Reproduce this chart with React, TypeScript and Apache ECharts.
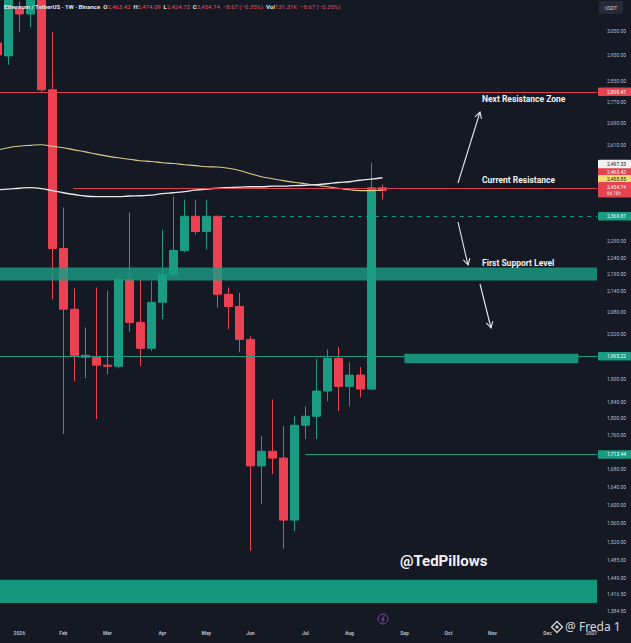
import React, { useEffect, useRef } from "react";
import * as echarts from "echarts";

// ---------- data ----------
const firstWeek = "2025-12-22";
const weekCount = 55;

// weekly candles: [open, close, low, high]
const candles: number[][] = [
  [3000, 2952, 2932, 3033],
  [2948, 3233, 2912, 3268],
  [3146, 3121, 3045, 3175],
  [3121, 3246, 3066, 3290],
  [3246, 2815, 2807, 3290],
  [2815, 2268, 2116, 3045],
  [2268, 2088, 1762, 2398],
  [2088, 1961, 1893, 2148],
  [1961, 1956, 1901, 2037],
  [1956, 1935, 1798, 2151],
  [1935, 1932, 1911, 2142],
  [1932, 2174.5, 1927, 2180],
  [2174.5, 2051, 2025, 2382],
  [2051, 1980, 1932, 2174.5],
  [1980, 2108, 1972, 2169],
  [2108, 2189, 2059.5, 2327],
  [2189, 2262, 2183, 2434],
  [2262, 2369.81, 2256, 2424],
  [2369.81, 2321, 2312, 2424],
  [2321, 2369.81, 2265, 2424],
  [2369.81, 2131, 2093, 2372],
  [2131, 2096, 2032, 2151],
  [2096, 2004, 1969, 2136],
  [2004, 1687, 1503, 2012.5],
  [1687, 1721, 1602, 1757],
  [1721, 1705, 1668.5, 1847],
  [1705, 1567, 1507, 1781],
  [1567, 1783, 1544, 1805],
  [1783, 1805, 1750, 1830],
  [1805, 1868, 1750, 1951],
  [1868, 1953, 1842, 1977],
  [1953, 1880, 1818, 1983],
  [1880, 1909, 1830, 1943],
  [1909, 1873, 1852, 1930],
  [1873, 2463.42, 1870, 2549],
  [2463.42, 2454.74, 2424.73, 2474.09],
];

const maYellow = [
  2593, 2601.5, 2607, 2610, 2612, 2607, 2601.5, 2594, 2587, 2579, 2572, 2566,
  2561, 2556, 2553, 2549, 2546, 2542, 2539, 2535, 2534, 2530, 2522, 2511, 2501,
  2494, 2487.5, 2482, 2477, 2472, 2467, 2462, 2457, 2454, 2454, 2455.85,
];
const maWhite = [
  2457, 2459, 2462, 2464, 2460.5, 2454, 2447, 2441, 2436, 2434, 2434, 2434,
  2436, 2437, 2439, 2444, 2447, 2450.6, 2455.6, 2459, 2462, 2464, 2465.6, 2467,
  2467, 2469, 2469, 2470.7, 2472, 2474, 2477, 2481, 2484, 2489, 2492.6, 2497.33,
];

const monthTickDates = [
  "2026-01-05", "2026-02-02", "2026-03-02", "2026-04-06", "2026-05-04",
  "2026-06-01", "2026-07-06", "2026-08-03", "2026-09-07", "2026-10-05",
  "2026-11-02", "2026-12-07", "2027-01-04",
];
const monthTickLabels = [
  "2026", "Feb", "Mar", "Apr", "May", "Jun", "Jul", "Aug", "Sep", "Oct", "Nov", "Dec", "2027",
];

const priceTicks = [
  3050, 2950, 2850, 2770, 2690, 2610, 2290, 2240, 2190, 2140, 2080, 2020, 1900,
  1840, 1800, 1760, 1680, 1640, 1600, 1560, 1520, 1485, 1449, 1416.5, 1384.5,
];
const priceMax = 3181;
const priceMin = 1358.5;

const nextResistance = 2800.47;
const currentResistance = 2463.42;
const breakoutLevel = 2369.81;
const supportZone = [2171, 2210];
const level1965 = 1965.22;
const zone1965 = [1940, 1965];
const level1713 = 1713.44;
const bottomZone = [1400, 1445];
const whiteMaLast = 2497.33;
const yellowMaLast = 2455.85;
const lastClose = 2454.74;
const countdown = "6d 16h";

const lastO = 2463.42;
const lastH = 2474.09;
const lastL = 2424.73;
const lastC = 2454.74;
const changeText = "−8.67 (−0.35%)";
const volText = "131.31K";

// ---------- helpers ----------
const L = Math.log;
const fmt = (p: number) =>
  p.toLocaleString("en-US", { minimumFractionDigits: 2, maximumFractionDigits: 2 });
const weekIndex = (d: string) =>
  Math.round((Date.parse(d) - Date.parse(firstWeek)) / (7 * 864e5));

const UP = "#1a9c82";
const DOWN = "#ec4152";
const BG = "#151924";
const AXIS_TXT = "#b9bcc5";
const HIDDEN_LINE = { color: "rgba(0,0,0,0)", width: 1, type: "solid" };

function tag(text: string, bg: string, fg: string, dy: number) {
  return {
    show: true,
    position: "end",
    distance: 1,
    formatter: text,
    backgroundColor: bg,
    color: fg,
    fontSize: 5,
    fontFamily: "Roboto",
    padding: [2, 5, 1.5, 9],
    offset: [0, dy],
    borderRadius: 1,
  };
}

function arrow(x1: number, y1: number, x2: number, y2: number) {
  const dx = x2 - x1, dy = y2 - y1;
  const len = Math.hypot(dx, dy);
  const bx = -dx / len, by = -dy / len;
  const h = 7, a = 0.5;
  const c = Math.cos(a), s = Math.sin(a);
  const p1 = [x2 + h * (bx * c - by * s), y2 + h * (bx * s + by * c)];
  const p2 = [x2 + h * (bx * c + by * s), y2 + h * (-bx * s + by * c)];
  const style = { stroke: "#e6e6ea", lineWidth: 1.1 };
  return [
    { type: "line", z: 100, shape: { x1, y1, x2, y2 }, style },
    { type: "polyline", z: 100, shape: { points: [p1, [x2, y2], p2] }, style },
  ];
}

export default function App() {
  const ref = useRef<HTMLDivElement>(null);

  useEffect(() => {
    document.body.style.margin = "0";
    if (!ref.current) return;
    const chart = echarts.init(ref.current, undefined, { renderer: "svg" });

    const xEnd = weekCount - 0.5;
    const monthIdx = monthTickDates.map(weekIndex);
    const candleData = candles.map((c, i) => [i, L(c[0]), L(c[1]), L(c[2]), L(c[3])]);
    const yellowData = maYellow.map((v, i) => [i, L(v)]);
    const whiteData = maWhite.map((v, i) => [i, L(v)]);

    const seg = (x0: number, v: number, extra: any) => [
      { coord: [x0, L(v)], ...extra },
      { coord: [xEnd, L(v)], ...extra },
    ];

    const textStyle = (size: number, weight: any = "bold") => ({
      fill: "#f2f2f4",
      fontSize: size,
      fontWeight: weight,
      fontFamily: "Roboto",
    });

    const option: any = {
      animation: false,
      backgroundColor: BG,
      grid: {
        left: -8.2,
        right: 34,
        top: 0,
        bottom: 18,
        containLabel: false,
        outerBoundsMode: "none",
      },
      xAxis: {
        type: "value",
        min: -0.5,
        max: xEnd,
        axisLine: { show: false },
        axisTick: { show: false },
        splitLine: { show: false },
        axisLabel: {
          customValues: monthIdx,
          margin: 5,
          fontSize: 5,
          fontWeight: "bold",
          fontFamily: "Roboto",
          color: AXIS_TXT,
          formatter: (v: number) => {
            const i = monthIdx.indexOf(Math.round(v));
            return i >= 0 ? monthTickLabels[i] : "";
          },
        },
      },
      yAxis: {
        type: "value",
        position: "right",
        min: L(priceMin),
        max: L(priceMax),
        axisLine: { show: false },
        axisTick: { show: false },
        splitLine: { show: false },
        axisLabel: {
          customValues: priceTicks.map(L),
          margin: 10,
          fontSize: 5,
          fontFamily: "Roboto",
          color: AXIS_TXT,
          formatter: (v: number) => fmt(Math.exp(v)),
        },
      },
      series: [
        {
          type: "candlestick",
          z: 2,
          barWidth: 8,
          encode: { x: 0, y: [1, 2, 3, 4] },
          data: candleData,
          itemStyle: {
            color: UP,
            color0: DOWN,
            borderColor: UP,
            borderColor0: DOWN,
            borderWidth: 1,
          },
          markArea: {
            z: 4,
            silent: true,
            data: [
              [
                { yAxis: L(supportZone[1]), itemStyle: { color: UP, opacity: 0.82 } },
                { yAxis: L(supportZone[0]) },
              ],
              [
                { coord: [37, L(zone1965[1])], itemStyle: { color: UP, opacity: 0.9 } },
                { coord: [52.8, L(zone1965[0])] },
              ],
              [
                { yAxis: L(bottomZone[1]), itemStyle: { color: "#14967d", opacity: 1 } },
                { yAxis: L(bottomZone[0]) },
              ],
            ],
          },
        },
        {
          type: "line",
          z: 3,
          data: yellowData,
          showSymbol: false,
          smooth: true,
          lineStyle: { color: "#dccb8a", width: 1.1 },
        },
        {
          type: "line",
          z: 3,
          data: whiteData,
          showSymbol: false,
          smooth: true,
          lineStyle: { color: "#ede6ea", width: 1.4 },
          markLine: {
            silent: true,
            symbol: ["none", "none"],
            data: [
              {
                yAxis: L(nextResistance),
                lineStyle: { color: "#d9434f", width: 1, type: "solid" },
                label: tag(fmt(nextResistance), "#e5434f", "#ffffff", 0),
              },
              seg(6.9, currentResistance, {
                lineStyle: { color: "#d9434f", width: 1, type: "solid" },
                label: tag(fmt(currentResistance), "#e5434f", "#ffffff", -16),
              }),
              seg(20.4, breakoutLevel, {
                lineStyle: { color: UP, width: 1, type: [4, 4.5] },
                label: tag(fmt(breakoutLevel), UP, "#ffffff", 0),
              }),
              {
                yAxis: L(level1965),
                lineStyle: { color: UP, width: 1, type: "solid" },
                label: tag(fmt(level1965), UP, "#ffffff", 0),
              },
              seg(28, level1713, {
                lineStyle: { color: UP, width: 1, type: "solid" },
                label: tag(fmt(level1713), UP, "#ffffff", 0),
              }),
              {
                yAxis: L(whiteMaLast),
                lineStyle: HIDDEN_LINE,
                label: tag(fmt(whiteMaLast), "#f2f2f2", "#131722", -16),
              },
              {
                yAxis: L(yellowMaLast),
                lineStyle: HIDDEN_LINE,
                label: tag(fmt(yellowMaLast), "#f2dc73", "#131722", -8),
              },
              {
                yAxis: L(lastClose),
                lineStyle: HIDDEN_LINE,
                label: {
                  ...tag("", "#e5434f", "#ffffff", 2.5),
                  formatter: `{a|${fmt(lastClose)}}\n{b|${countdown}}`,
                  rich: {
                    a: { fontSize: 5, color: "#ffffff", fontFamily: "Roboto", lineHeight: 6 },
                    b: { fontSize: 4.5, color: "#ffe0e3", fontFamily: "Roboto", lineHeight: 6 },
                  },
                },
              },
            ],
          },
        },
      ],
      graphic: [
        {
          type: "text",
          z: 100,
          x: 4,
          y: 6,
          style: {
            text:
              `{w|Ethereum / TetherUS · 1W · Binance  O}{r|${fmt(lastO)}}` +
              `{w|  H}{r|${fmt(lastH)}}{w|  L}{r|${fmt(lastL)}}` +
              `{w|  C}{r|${fmt(lastC)}  ${changeText}}{w|  Vol}{r|${volText}  ${changeText}}`,
            verticalAlign: "middle",
            rich: {
              w: { fill: "#e2e4ea", fontSize: 6, fontFamily: "Roboto", fontWeight: "bold" },
              r: { fill: "#e0515c", fontSize: 6, fontFamily: "Roboto" },
            },
          },
        },
        {
          type: "rect",
          z: 100,
          shape: { x: 599, y: 1, width: 24, height: 13, r: 2 },
          style: { fill: "#262a35" },
        },
        {
          type: "text",
          z: 101,
          x: 611,
          y: 7.5,
          style: {
            text: "USDT",
            fill: "#d1d4dc",
            fontSize: 5,
            fontFamily: "Roboto",
            align: "center",
            verticalAlign: "middle",
          },
        },
        {
          type: "text", z: 100, x: 482, y: 99,
          style: { text: "Next Resistance Zone", verticalAlign: "middle", ...textStyle(8.5) },
        },
        {
          type: "text", z: 100, x: 482, y: 180,
          style: { text: "Current Resistance", verticalAlign: "middle", ...textStyle(8.5) },
        },
        {
          type: "text", z: 100, x: 482, y: 263,
          style: { text: "First Support Level", verticalAlign: "middle", ...textStyle(8.5) },
        },
        ...arrow(458, 183, 480, 112),
        ...arrow(458, 222, 468, 265),
        ...arrow(480, 284, 491, 328),
        {
          type: "text", z: 100, x: 400, y: 561,
          style: { text: "@TedPillows", verticalAlign: "middle", ...textStyle(15) },
        },
        {
          type: "circle", z: 100,
          shape: { cx: 383, cy: 619, r: 5 },
          style: { fill: "none", stroke: "#8a3fb0", lineWidth: 1 },
        },
        {
          type: "polyline", z: 100,
          shape: { points: [[384.6, 615.6], [381.6, 619.6], [384.2, 619.4], [381.8, 622.8]] },
          style: { stroke: "#9b4cc2", lineWidth: 0.9 },
        },
        {
          type: "polygon", z: 100,
          shape: { points: [[557, 621.5], [562.5, 627], [557, 632.5], [551.5, 627]] },
          style: { fill: "none", stroke: "#d6d6da", lineWidth: 1.3 },
        },
        {
          type: "rect", z: 100,
          shape: { x: 555.6, y: 625.6, width: 2.8, height: 2.8 },
          style: { fill: "#d6d6da" },
        },
        {
          type: "text", z: 100, x: 565, y: 626,
          style: {
            text: "@ Freda 1",
            fill: "#d6d6da",
            fontSize: 12,
            fontFamily: "Noto Sans",
            verticalAlign: "middle",
          },
        },
      ],
    };

    chart.setOption(option);
    return () => chart.dispose();
  }, []);

  return <div ref={ref} style={{ width: 631, height: 643, background: BG }} />;
}
